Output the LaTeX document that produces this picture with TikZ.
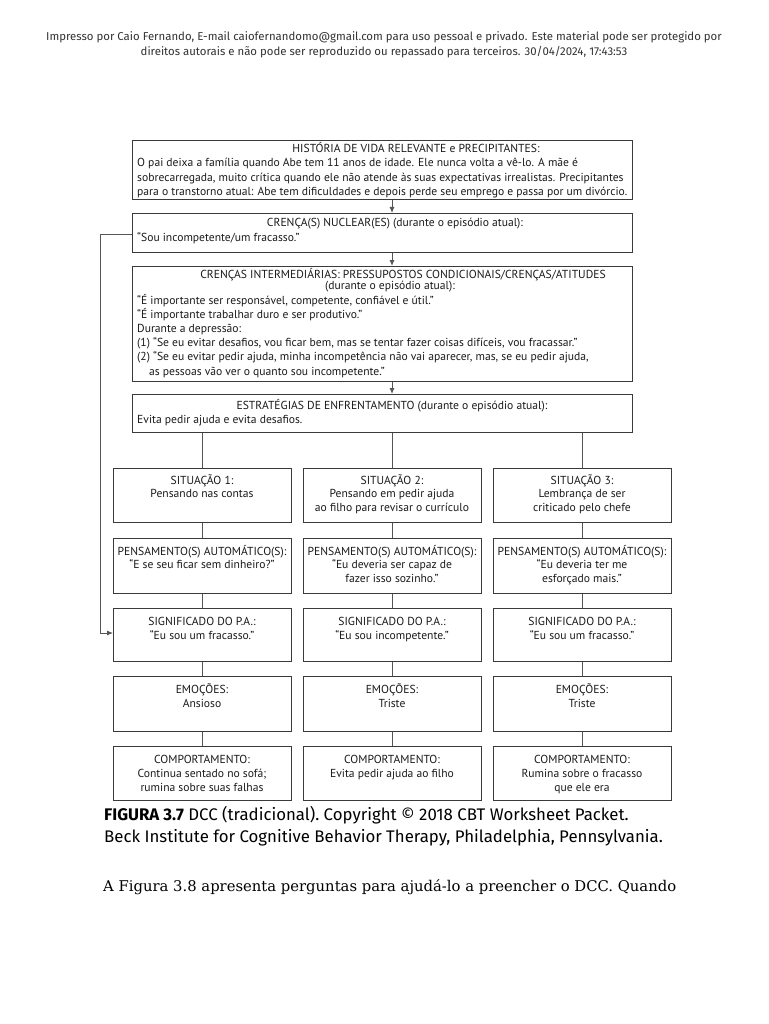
\documentclass[tikz,border=0pt]{standalone}
\usepackage{fontspec}
\setmainfont{PT Sans}
\newfontfamily\hdrfont{Fira Sans}
\newfontfamily\capfont{Fira Sans}
\newfontfamily\serifbody{DejaVu Serif}
\usetikzlibrary{arrows.meta}
\definecolor{boxline}{HTML}{3A3A3A}
\definecolor{conline}{HTML}{555555}
\definecolor{txt}{HTML}{1A1A1A}
\definecolor{hdrtxt}{HTML}{333333}
\tikzset{
  box/.style={draw=boxline, line width=1.2pt, inner sep=0pt, anchor=north west},
  ln/.style={inner sep=0pt, text=txt, font=\fontsize{11.6}{13}\selectfont},
  lnl/.style={ln, anchor=base west},
  lnc/.style={ln, anchor=base},
  con/.style={draw=conline, line width=0.9pt},
  arr/.style={con, -{Latex[length=6pt,width=5pt]}},
  hdr/.style={inner sep=0pt, anchor=base, text=hdrtxt, font=\hdrfont\fontsize{11.4}{13}\selectfont},
  captext/.style={inner sep=0pt, anchor=base west, text=black, font=\capfont\fontsize{16.8}{19}\selectfont},
  bodytext/.style={inner sep=0pt, anchor=base west, text=black, font=\serifbody\fontsize{14.8}{17}\selectfont}
}
\begin{document}
\begin{tikzpicture}[x=1pt,y=-1pt]
\useasboundingbox[fill=white] (0,0) rectangle (768,1024);

% header
\node[hdr] (h1) at (384,41) {Impresso por Caio Fernando, E-mail caiofernandomo@gmail.com para uso pessoal e privado. Este material pode ser protegido por};
\node[hdr] (h2) at (384,56) {direitos autorais e não pode ser reproduzido ou repassado para terceiros. 30/04/2024, 17:43:53};

% top boxes
\node[box, minimum width=500pt, minimum height=59pt] (hist) at (132,140) {};
\node[lnc] (hist0) at (416,153) {HISTÓRIA DE VIDA RELEVANTE e PRECIPITANTES:};
\node[lnl] (hist1) at (137,167) {O pai deixa a família quando Abe tem 11 anos de idade. Ele nunca volta a vê-lo. A mãe é};
\node[lnl] (hist2) at (137,181.5) {sobrecarregada, muito crítica quando ele não atende às suas expectativas irrealistas. Precipitantes};
\node[lnl] (hist3) at (137,196) {para o transtorno atual: Abe tem dificuldades e depois perde seu emprego e passa por um divórcio.};

\node[box, minimum width=500pt, minimum height=39pt] (core) at (132,213) {};
\node[lnc] (core0) at (395,226) {CRENÇA(S) NUCLEAR(ES) (durante o episódio atual):};
\node[lnl] (core1) at (137,241) {“Sou incompetente/um fracasso.”};

\node[box, minimum width=500pt, minimum height=115pt] (inter) at (132,266) {};
\node[lnc] (inter0) at (403,278) {CRENÇAS INTERMEDIÁRIAS: PRESSUPOSTOS CONDICIONAIS/CRENÇAS/ATITUDES};
\node[lnc] (inter0b) at (390,289.5) {(durante o episódio atual):};
\node[lnl] (inter1) at (137,304) {“É importante ser responsável, competente, confiável e útil.”};
\node[lnl] (inter2) at (137,318) {“É importante trabalhar duro e ser produtivo.”};
\node[lnl] (inter3) at (137,332) {Durante a depressão:};
\node[lnl] (inter4) at (137,346) {(1) “Se eu evitar desafios, vou ficar bem, mas se tentar fazer coisas difíceis, vou fracassar.”};
\node[lnl] (inter5) at (137,360.5) {(2) “Se eu evitar pedir ajuda, minha incompetência não vai aparecer, mas, se eu pedir ajuda,};
\node[lnl] (inter6) at (149,375) {as pessoas vão ver o quanto sou incompetente.”};

\node[box, minimum width=500pt, minimum height=38pt] (strat) at (132,394) {};
\node[lnc] (strat0) at (392,409) {ESTRATÉGIAS DE ENFRENTAMENTO (durante o episódio atual):};
\node[lnl] (strat1) at (137,423) {Evita pedir ajuda e evita desafios.};

% arrows between top boxes
\draw[arr] (hist.south -| 392,0) -- (core.north -| 392,0);
\draw[arr] (core.south -| 392,0) -- (inter.north -| 392,0);
\draw[arr] (inter.south -| 392,0) -- (strat.north -| 392,0);

% columns
\foreach \c/\x in {1/113,2/303,3/493}{
  \node[box, minimum width=178pt, minimum height=54pt] (sit\c) at (\x,468) {};
  \node[box, minimum width=178pt, minimum height=55pt] (pa\c) at (\x,538) {};
  \node[box, minimum width=178pt, minimum height=53pt] (sig\c) at (\x,608) {};
  \node[box, minimum width=178pt, minimum height=55pt] (emo\c) at (\x,676) {};
  \node[box, minimum width=178pt, minimum height=54pt] (comp\c) at (\x,746) {};
  \draw[con] (sit\c.north |- strat.south) -- (sit\c.north);
  \draw[con] (sit\c) -- (pa\c);
  \draw[con] (pa\c) -- (sig\c);
  \draw[con] (sig\c) -- (emo\c);
  \draw[con] (emo\c) -- (comp\c);
}

% column 1
\node[lnc] (s1a) at (202,484) {SITUAÇÃO 1:};
\node[lnc] (s1b) at (202,497) {Pensando nas contas};
\node[lnc] (p1a) at (202,555) {PENSAMENTO(S) AUTOMÁTICO(S):};
\node[lnc] (p1b) at (202,568) {“E se seu ficar sem dinheiro?”};
\node[lnc] (g1a) at (202,625) {SIGNIFICADO DO P.A.:};
\node[lnc] (g1b) at (202,639) {“Eu sou um fracasso.”};
\node[lnc] (e1a) at (202,693) {EMOÇÕES:};
\node[lnc] (e1b) at (202,707) {Ansioso};
\node[lnc] (c1a) at (202,763) {COMPORTAMENTO:};
\node[lnc] (c1b) at (202,777) {Continua sentado no sofá;};
\node[lnc] (c1c) at (202,791) {rumina sobre suas falhas};

% column 2
\node[lnc] (s2a) at (392,484) {SITUAÇÃO 2:};
\node[lnc] (s2b) at (392,497) {Pensando em pedir ajuda};
\node[lnc] (s2c) at (392,511) {ao filho para revisar o currículo};
\node[lnc] (p2a) at (392,555) {PENSAMENTO(S) AUTOMÁTICO(S):};
\node[lnc] (p2b) at (392,568) {“Eu deveria ser capaz de};
\node[lnc] (p2c) at (392,582) {fazer isso sozinho.”};
\node[lnc] (g2a) at (392,625) {SIGNIFICADO DO P.A.:};
\node[lnc] (g2b) at (392,639) {“Eu sou incompetente.”};
\node[lnc] (e2a) at (392,693) {EMOÇÕES:};
\node[lnc] (e2b) at (392,707) {Triste};
\node[lnc] (c2a) at (392,763) {COMPORTAMENTO:};
\node[lnc] (c2b) at (392,777) {Evita pedir ajuda ao filho};

% column 3
\node[lnc] (s3a) at (582,484) {SITUAÇÃO 3:};
\node[lnc] (s3b) at (582,497) {Lembrança de ser};
\node[lnc] (s3c) at (582,511) {criticado pelo chefe};
\node[lnc] (p3a) at (582,555) {PENSAMENTO(S) AUTOMÁTICO(S):};
\node[lnc] (p3b) at (582,568) {“Eu deveria ter me};
\node[lnc] (p3c) at (582,582) {esforçado mais.”};
\node[lnc] (g3a) at (582,625) {SIGNIFICADO DO P.A.:};
\node[lnc] (g3b) at (582,639) {“Eu sou um fracasso.”};
\node[lnc] (e3a) at (582,693) {EMOÇÕES:};
\node[lnc] (e3b) at (582,707) {Triste};
\node[lnc] (c3a) at (582,763) {COMPORTAMENTO:};
\node[lnc] (c3b) at (582,777) {Rumina sobre o fracasso};
\node[lnc] (c3c) at (582,791) {que ele era};

% feedback connector from core beliefs to meaning of AT
\coordinate (bendA) at (100,234);
\draw[con] (core.west |- bendA) -- (bendA) -- (100,633) coordinate (bendB);
\draw[arr] (bendB) -- (sig1.west |- bendB);

% caption
\node[captext] (cap1) at (104,820) {\frenchspacing\textbf{FIGURA 3.7} DCC (tradicional). Copyright © 2018 CBT Worksheet Packet.};
\node[captext] (cap2) at (104,842) {Beck Institute for Cognitive Behavior Therapy, Philadelphia, Pennsylvania.};
\node[bodytext] (body) at (103,891) {\frenchspacing A Figura 3.8 apresenta perguntas para ajudá-lo a preencher o DCC. Quando};
\end{tikzpicture}
\end{document}
